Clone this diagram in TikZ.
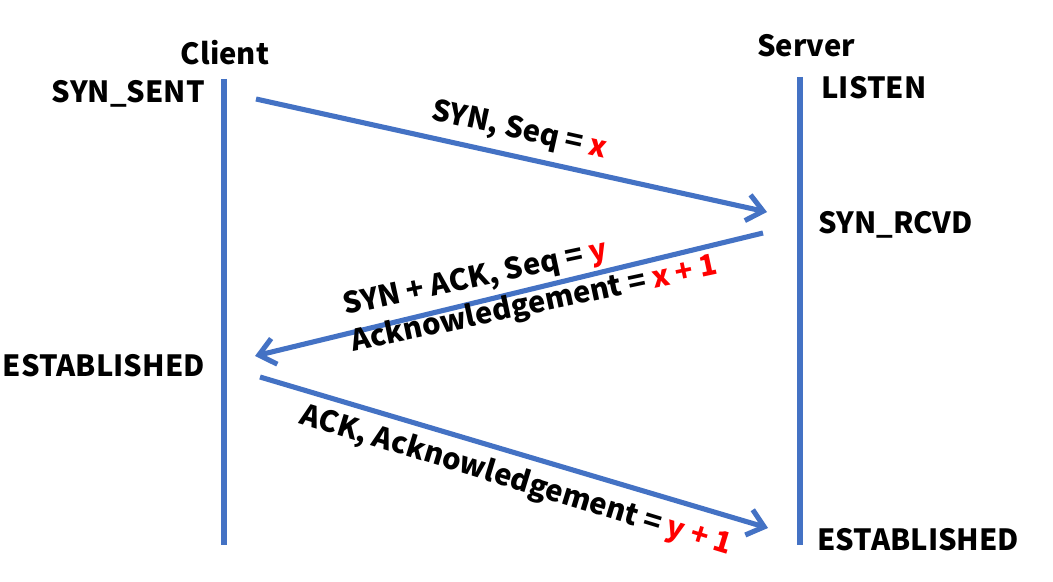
\documentclass[tikz,border=0pt]{standalone}
\usepackage{fontspec}
\setmainfont{Noto Sans CJK SC}[AutoFakeSlant=0.2]
\usepackage{tikz}
\usetikzlibrary{arrows.meta}
\definecolor{lineblue}{HTML}{4472C4}

\begin{document}
\begin{tikzpicture}[x=0.02cm,y=-0.02cm,
  state/.style={font=\fontsize{16.6}{18}\selectfont\bfseries, inner sep=0pt},
  lbl/.style={font=\fontsize{16.6}{21.5}\selectfont\bfseries, inner sep=0pt},
  life/.style={draw=lineblue, line width=3.3pt},
  msg/.style={draw=lineblue, line width=2.9pt, -{Straight Barb[length=9pt,width=15pt]}}]
  \useasboundingbox (0,0) rectangle (1053,581);

  % Lifelines
  \coordinate (ctop) at (224,79);
  \coordinate (cbot) at (224,545);
  \coordinate (stop) at (800,77);
  \coordinate (sbot) at (800,545);
  \draw[life] (ctop) -- (cbot);
  \draw[life] (stop) -- (sbot);

  % Hosts
  \node[state,anchor=base] (client) at (225,65) {Client};
  \node[state,anchor=base] (server) at (806,57) {Server};

  % Client states
  \node[state,anchor=base east] (synsent) at (205,102) {SYN\_SENT};
  \node[state,anchor=base east] (cestab) at (205,376) {ESTABLISHED};

  % Server states
  \node[state,anchor=base west] (listen) at (821,98) {LISTEN};
  \node[state,anchor=base west] (synrcvd) at (818,233) {SYN\_RCVD};
  \node[state,anchor=base west] (sestab) at (817,550) {ESTABLISHED};

  % Message end points
  \coordinate (syn0) at (256,99);
  \coordinate (syn1) at (767,212);
  \coordinate (sa0) at (763,233);
  \coordinate (sa1) at (255,356);
  \coordinate (ack0) at (260,377);
  \coordinate (ack1) at (768,528);

  % Messages
  \draw[msg] (syn0) -- (syn1);
  \draw[msg] (sa0) -- (sa1);
  \draw[msg] (ack0) -- (ack1);

  % Message labels (base anchor = last line)
  \node[lbl,anchor=base west,rotate=-12.6] (synlbl) at (430,119)
    {\itshape SYN, Seq = \textcolor{red}{x}};
  \node[lbl,anchor=base west,rotate=12,align=left] (salbl) at (353,352)
    {SYN + ACK, Seq = \textcolor{red}{y}\\Acknowledgement = \textcolor{red}{x + 1}};
  \node[lbl,anchor=base west,rotate=-17] (acklbl) at (298,423)
    {\itshape ACK, Acknowledgement = \textcolor{red}{y + 1}};
\end{tikzpicture}
\end{document}
